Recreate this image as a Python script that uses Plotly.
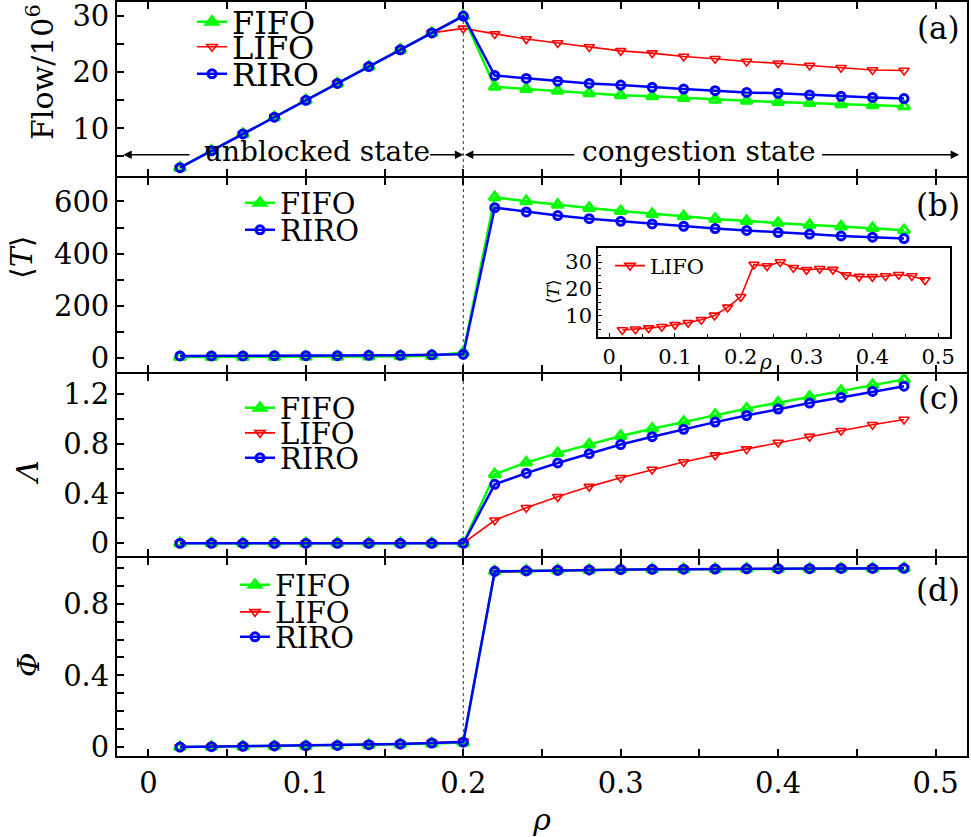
import plotly.graph_objects as go

# ---------------- data ----------------
rho = [0.02, 0.04, 0.06, 0.08, 0.10, 0.12, 0.14, 0.16, 0.18, 0.20, 0.22, 0.24,
       0.26, 0.28, 0.30, 0.32, 0.34, 0.36, 0.38, 0.40, 0.42, 0.44, 0.46, 0.48]

flow_fifo = [3, 6, 9, 12, 15, 18, 21, 24, 27, 30, 17.4, 17.0, 16.7, 16.25, 15.9, 15.7,
             15.4, 15.1, 14.9, 14.7, 14.5, 14.3, 14.1, 13.95]
flow_lifo = [3, 6, 9, 12, 15, 18, 21, 24, 27, 27.8, 26.8, 25.9, 25.2, 24.5, 23.8, 23.4,
             22.8, 22.4, 21.9, 21.6, 21.2, 20.8, 20.4, 20.3]
flow_riro = [3, 6, 9, 12, 15, 18, 21, 24, 27, 30, 19.4, 18.9, 18.4, 18.0, 17.7, 17.3,
             17.0, 16.7, 16.4, 16.25, 15.96, 15.7, 15.5, 15.3]

t_fifo = [5, 5, 5, 5, 6, 6, 7, 8, 10, 22, 616, 601, 587, 575, 563, 552, 543, 533,
          525, 518, 510, 504, 498, 490]
t_riro = [9, 9, 9, 10, 10, 10, 11, 11, 13, 15, 576, 560, 546, 534, 524, 514, 505, 496,
          489, 481, 475, 468, 463, 458]
t_lifo = [4.8, 5.1, 5.5, 6.0, 6.7, 7.5, 8.6, 10.2, 13.2, 17.1, 29.1, 28.5, 30.0, 27.9,
          27.1, 27.5, 27.2, 25.2, 24.6, 24.5, 24.8, 25.3, 24.8, 23.3]

lam_fifo = [0, 0, 0, 0, 0, 0, 0, 0, 0, 0, 0.555, 0.648, 0.724, 0.793, 0.862, 0.920,
            0.975, 1.031, 1.081, 1.129, 1.176, 1.224, 1.271, 1.316]
lam_lifo = [0, 0, 0, 0, 0, 0, 0, 0, 0, 0, 0.185, 0.285, 0.373, 0.455, 0.526, 0.592,
            0.653, 0.708, 0.756, 0.809, 0.856, 0.904, 0.952, 0.994]
lam_riro = [0, 0, 0, 0, 0, 0, 0, 0, 0, 0, 0.473, 0.563, 0.645, 0.719, 0.793, 0.856,
            0.915, 0.973, 1.026, 1.078, 1.126, 1.171, 1.219, 1.261]

phi_fifo = [0.000, 0.002, 0.003, 0.005, 0.006, 0.008, 0.011, 0.015, 0.020, 0.025,
            0.981, 0.985, 0.987, 0.989, 0.991, 0.992, 0.993, 0.994, 0.995, 0.996,
            0.996, 0.997, 0.997, 0.998]
phi_lifo = [0.000, 0.002, 0.004, 0.006, 0.008, 0.010, 0.014, 0.018, 0.025, 0.032,
            0.975, 0.982, 0.985, 0.988, 0.990, 0.991, 0.992, 0.993, 0.994, 0.995,
            0.996, 0.997, 0.998, 0.998]
phi_riro = [0.000, 0.002, 0.004, 0.006, 0.007, 0.009, 0.013, 0.017, 0.022, 0.028,
            0.981, 0.984, 0.987, 0.989, 0.991, 0.992, 0.993, 0.994, 0.995, 0.996,
            0.996, 0.997, 0.997, 0.998]

# ---------------- styling ----------------
W, H = 971, 837
ML, MR, MT, MB = 117, 4, 2, 81
PW, PH = W - ML - MR, H - MT - MB
FONT = "DejaVu Serif"
GREEN, RED, BLUE = "#00ff00", "#ff0000", "#0000ff"
LW = 1.8


def px(x):
    return (x - ML) / PW


def py(y):
    return (H - MB - y) / PH


STY = {
    "FIFO": dict(color=GREEN, lw=2.5, sym="triangle-up-open", size=10, mlw=3),
    "LIFO": dict(color=RED, lw=1.6, sym="triangle-down-open", size=9, mlw=1.6),
    "RIRO": dict(color=BLUE, lw=2.5, sym="circle-open", size=8, mlw=3),
}

fig = go.Figure()


def add(name, y, xa, ya, legend):
    s = STY[name]
    fig.add_trace(go.Scatter(
        x=rho, y=y, name=name, mode="lines+markers", xaxis=xa, yaxis=ya,
        legend=legend, showlegend=True,
        line=dict(color=s["color"], width=s["lw"]),
        marker=dict(symbol=s["sym"], size=s["size"], color=s["color"],
                    line=dict(width=s["mlw"], color=s["color"])),
    ))


# panel (a)
add("LIFO", flow_lifo, "x", "y", "legend2")
add("FIFO", flow_fifo, "x", "y", "legend")
add("RIRO", flow_riro, "x", "y", "legend3")
# panel (b)
add("FIFO", t_fifo, "x2", "y2", "legend4")
add("RIRO", t_riro, "x2", "y2", "legend5")
# panel (c)
add("LIFO", lam_lifo, "x3", "y3", "legend7")
add("FIFO", lam_fifo, "x3", "y3", "legend6")
add("RIRO", lam_riro, "x3", "y3", "legend8")
# panel (d)
add("LIFO", phi_lifo, "x4", "y4", "legend10")
add("FIFO", phi_fifo, "x4", "y4", "legend9")
add("RIRO", phi_riro, "x4", "y4", "legend11")
# inset
add("LIFO", t_lifo, "x5", "y5", "legend12")

# ---------------- legends ----------------
leg_specs = {
    "legend": (197, 22, 32), "legend2": (197, 47, 32), "legend3": (197, 74, 32),
    "legend4": (245, 203, 29), "legend5": (245, 230, 29),
    "legend6": (245, 408, 29), "legend7": (245, 433, 29), "legend8": (245, 458, 29),
    "legend9": (240, 585, 29), "legend10": (240, 612, 29), "legend11": (240, 637, 29),
    "legend12": (615, 266, 21),
}
leg_layout = {}
for key, (lx, ly, fs) in leg_specs.items():
    leg_layout[key] = dict(
        x=px(lx - 5), y=py(ly), xanchor="left", yanchor="middle",
        bgcolor="rgba(0,0,0,0)", borderwidth=0, itemwidth=30,
        font=dict(family=FONT, size=fs, color="black"),
    )

# ---------------- axes ----------------
# panel pixel extents (top, bottom); a gap of LW so shared frame lines coincide
dom_a = [py(177 - LW / 2), 1.0]
dom_b = [py(373 - LW / 2), py(177 + LW / 2)]
dom_c = [py(557 - LW / 2), py(373 + LW / 2)]
dom_d = [0.0, py(557 + LW / 2)]

common = dict(showline=True, linewidth=LW, linecolor="black", ticks="inside",
              tickcolor="black", tickwidth=1.5, ticklen=7, showgrid=False,
              zeroline=False, ticklabeloverflow="allow",
              tickfont=dict(family=FONT, size=29, color="black"))


def xax(anchor, labels):
    return dict(common, anchor=anchor, domain=[0, 1], range=[-0.02, 0.52],
                tick0=0, dtick=0.1, mirror="allticks", showticklabels=labels,
                minor=dict(dtick=0.05, ticks="inside", ticklen=7, tickwidth=1.5,
                           tickcolor="black"))


def yax(anchor, dom, rng, dtick, mdtick):
    return dict(common, anchor=anchor, domain=dom, range=rng, tick0=0, dtick=dtick,
                mirror=True,
                minor=dict(dtick=mdtick, ticks="inside", ticklen=7, tickwidth=1.5,
                           tickcolor="black"))


inset_common = dict(showline=True, linewidth=1.5, linecolor="black", ticks="inside",
                    tickcolor="black", tickwidth=1, ticklen=4, showgrid=False,
                    zeroline=False, mirror=True, ticklabeloverflow="allow",
                    tickfont=dict(family=FONT, size=21, color="black"))

fig.update_layout(
    width=W, height=H,
    margin=dict(l=ML, r=MR, t=MT, b=MB, autoexpand=False),
    paper_bgcolor="white", plot_bgcolor="white",
    xaxis=xax("y", False),
    xaxis2=xax("y2", False),
    xaxis3=xax("y3", False),
    xaxis4=dict(xax("y4", True), title=dict(text="<i>ρ</i>",
                font=dict(family=FONT, size=30, color="black"), standoff=10)),
    yaxis=yax("x", dom_a, [1.5, 32.5], 10, 5),
    yaxis2=yax("x2", dom_b, [-53, 690], 200, 100),
    yaxis3=yax("x3", dom_c, [-0.103, 1.36], 0.4, 0.2),
    yaxis4=yax("x4", dom_d, [-0.05, 1.056], 0.4, 0.1),
    xaxis5=dict(inset_common, anchor="y5", domain=[px(598), px(950)],
                range=[-0.017, 0.518], tick0=0, dtick=0.1,
                minor=dict(dtick=0.05, ticks="inside", ticklen=3, tickcolor="black")),
    yaxis5=dict(inset_common, anchor="x5", domain=[py(337), py(248)],
                range=[2.2, 35.2], tick0=0, dtick=10,
                minor=dict(dtick=2.5, ticks="inside", ticklen=3, tickcolor="black")),
    showlegend=True,
    **leg_layout,
)

# vertical dotted line at the transition
fig.add_shape(type="line", xref="x", yref="paper", x0=0.2, x1=0.2, y0=0, y1=1,
              line=dict(color="#333333", width=1, dash="dot"), layer="below")

ann = []


def ytitle(text, x, y, size=30):
    ann.append(dict(text=text, xref="paper", yref="paper", x=px(x), y=py(y),
                    textangle=-90, showarrow=False, xanchor="center", yanchor="middle",
                    font=dict(family=FONT, size=size, color="black")))


ytitle("Flow/10<sup>6</sup>", 40, 72)
ytitle("⟨<i>T</i>⟩", 21, 258)
ytitle("<i>Λ</i>", 28, 473)
ytitle("<i>Φ</i>", 28, 665)
ytitle("⟨<i>T</i>⟩", 553, 292, 17)
ann.append(dict(text="<i>ρ</i>", xref="paper", yref="paper", x=px(774), y=py(362),
                showarrow=False, font=dict(family=FONT, size=20, color="black")))

# panel labels
for lab, yy in [("(a)", 28), ("(b)", 205), ("(c)", 398), ("(d)", 590)]:
    ann.append(dict(text=lab, xref="paper", yref="paper", x=px(962), y=py(yy),
                    xanchor="right", yanchor="middle", showarrow=False,
                    font=dict(family=FONT, size=31, color="black")))

# state arrows in panel (a)
ARR_Y = 5.3
for head, tail in [(-0.016, 0.027), (0.2, 0.178), (0.201, 0.2715), (0.515, 0.427)]:
    ann.append(dict(x=head, y=ARR_Y, ax=tail, ay=ARR_Y, xref="x", yref="y",
                    axref="x", ayref="y", text="", showarrow=True, arrowhead=2,
                    arrowsize=1.3, arrowwidth=1.3, arrowcolor="black"))
for txt, xc in [("unblocked state", 0.107), ("congestion state", 0.350)]:
    ann.append(dict(text=txt, x=xc, y=ARR_Y, xref="x", yref="y", showarrow=False,
                    yshift=3, font=dict(family=FONT, size=28, color="black")))

fig.update_layout(annotations=ann)
fig.write_html("out.html")
